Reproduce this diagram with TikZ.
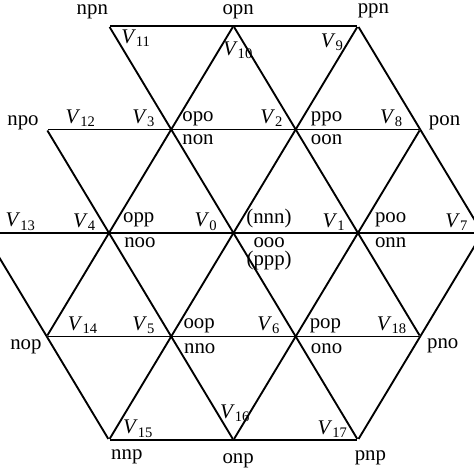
\documentclass[tikz,border=0pt]{standalone}
\usepackage{fontspec}
\setmainfont{Liberation Serif}
\usepackage{tikz}
\usetikzlibrary{positioning}
\tikzstyle{blank} = [inner sep=0,outer sep=0]
\tikzstyle{vlab} = [inner sep=0,outer sep=0]
\tikzstyle{slab} = [inner sep=0,outer sep=0]
\tikzstyle{edge} = [draw, line width=0.9pt]
\newcommand{\Vsub}[1]{\textit{V}\textsubscript{#1}}

\begin{document}
\begin{tikzpicture}[node distance=2.101cm]

\useasboundingbox (0,0) rectangle (8,8);

\node [blank] (O) at (3.941,4.068) {};
\node [blank, left of=O] (noo) {};
\node [blank, left of=noo] (lft) {};
\node [blank, right of=O] (onn) {};
\node [blank, right of=onn] (rgt) {};

\node [blank, above of=O, xshift=-1.051cm, yshift=-0.354cm] (opo) {};
\node [blank, left of=opo] (npo) {};
\node [blank, right of=opo] (ppo) {};
\node [blank, right of=ppo] (pon) {};
\node [blank, above of=opo, xshift=-1.051cm, yshift=-0.354cm] (npn) {};
\node [blank, right of=npn] (opn) {};
\node [blank, right of=opn] (ppn) {};

\node [blank, below of=O, xshift=-1.051cm, yshift=0.354cm] (oop) {};
\node [blank, left of=oop] (nop) {};
\node [blank, right of=oop] (pop) {};
\node [blank, right of=pop] (pno) {};
\node [blank, below of=oop, xshift=-1.051cm, yshift=0.354cm] (nnp) {};
\node [blank, right of=nnp] (onp) {};
\node [blank, right of=onp] (pnp) {};

\path [edge] (npn) -- (ppn) -- (rgt) -- (pnp) -- (nnp) -- (lft) -- cycle;
\path [edge] (npo) -- (pon);
\path [edge] (lft) -- (rgt);
\path [edge] (nop) -- (pno);
\path [edge] (nop) -- (opn);
\path [edge] (nnp) -- (ppn);
\path [edge] (onp) -- (pon);
\path [edge] (npo) -- (onp);
\path [edge] (npn) -- (pnp);
\path [edge] (opn) -- (pno);

\node [slab, above left=0.1cm and 0cm of npn] (lnpn) {npn};
\node [vlab, below right=0.05cm and 0.19cm of npn] (v11) {\Vsub{11}};
\node [slab, above=0.1cm of opn, xshift=0.08cm] (lopn) {opn};
\node [vlab, below=0.25cm of opn, xshift=0.08cm] (v10) {\Vsub{10}};
\node [slab, above right=0.12cm and -0.02cm of ppn] (lppn) {ppn};
\node [vlab, below left=0.12cm and 0.22cm of ppn] (v9) {\Vsub{9}};

\node [slab, above left=-0.03cm and 0.12cm of npo] (lnpo) {npo};
\node [vlab, above right=0.03cm and 0.3cm of npo] (v12) {\Vsub{12}};
\node [vlab, above left=0.03cm and 0.25cm of opo] (v3) {\Vsub{3}};
\node [slab, above right=0.05cm and 0.17cm of opo] (lopo) {opo};
\node [slab, below right=0.07cm and 0.17cm of opo] (lnon) {non};
\node [vlab, above left=0.03cm and 0.19cm of ppo] (v2) {\Vsub{2}};
\node [slab, above right=0.05cm and 0.24cm of ppo] (lppo) {ppo};
\node [slab, below right=0.07cm and 0.24cm of ppo] (loon) {oon};
\node [vlab, above left=0.03cm and 0.27cm of pon] (v8) {\Vsub{8}};
\node [slab, above right=-0.03cm and 0.13cm of pon] (lpon) {pon};

\node [vlab, above right=0.03cm and 0.34cm of lft] (v13) {\Vsub{13}};
\node [vlab, above left=0.03cm and 0.2cm of noo] (v4) {\Vsub{4}};
\node [slab, above right=0.08cm and 0.22cm of noo] (lopp) {opp};
\node [slab, below right=0.07cm and 0.24cm of noo] (lnoo) {noo};
\node [vlab, above left=0.03cm and 0.25cm of O] (v0) {\Vsub{0}};
\node [slab, above right=0.07cm and 0.2cm of O] (lnnn) {(nnn)};
\node [slab, below right=0.06cm and 0.32cm of O] (looo) {ooo};
\node [slab, below=0.06cm of looo] (lppp) {(ppp)};
\node [vlab, above left=0.03cm and 0.19cm of onn] (v1) {\Vsub{1}};
\node [slab, above right=0.08cm and 0.27cm of onn] (lpoo) {poo};
\node [slab, below right=0.07cm and 0.27cm of onn] (lonn) {onn};
\node [vlab, above left=0.03cm and 0.22cm of rgt] (v7) {\Vsub{7}};

\node [vlab, above right=0.03cm and 0.34cm of nop] (v14) {\Vsub{14}};
\node [slab, below left=0.03cm and 0.07cm of nop] (lnop) {nop};
\node [vlab, above left=0.03cm and 0.25cm of oop] (v5) {\Vsub{5}};
\node [slab, above right=0.04cm and 0.19cm of oop] (loop) {oop};
\node [slab, below right=0.1cm and 0.2cm of oop] (lnno) {nno};
\node [vlab, above left=0.03cm and 0.24cm of pop] (v6) {\Vsub{6}};
\node [slab, above right=0.04cm and 0.22cm of pop] (lpop) {pop};
\node [slab, below right=0.1cm and 0.24cm of pop] (lono) {ono};
\node [vlab, above left=0.03cm and 0.2cm of pno] (v18) {\Vsub{18}};
\node [slab, below right=0.02cm and 0.1cm of pno] (lpno) {pno};

\node [vlab, above right=0.03cm and 0.22cm of nnp] (v15) {\Vsub{15}};
\node [slab, below right=0.14cm and 0.02cm of nnp] (lnnp) {nnp};
\node [vlab, above=0.29cm of onp, xshift=0.03cm] (v16) {\Vsub{16}};
\node [slab, below=0.22cm of onp, xshift=0.08cm] (lonp) {onp};
\node [vlab, above left=0.03cm and 0.15cm of pnp] (v17) {\Vsub{17}};
\node [slab, below right=0.17cm and -0.07cm of pnp] (lpnp) {pnp};

\end{tikzpicture}
\end{document}
